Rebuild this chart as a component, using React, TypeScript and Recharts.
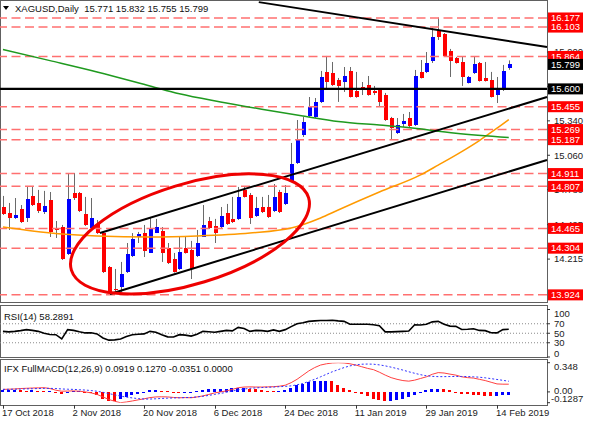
import React from 'react';
import { ComposedChart, Bar, Line, XAxis, YAxis, ReferenceLine, ReferenceDot } from 'recharts';

const FONT = '"Liberation Sans", Arial, sans-serif';

// ---- candles (daily, 17 Oct 2018 .. 18 Feb 2019) ----
const opens = [14.639,14.590,14.550,14.623,14.550,14.729,14.672,14.598,14.696,14.460,14.476,14.257,14.753,14.753,14.582,14.468,14.501,14.427,14.151,13.972,13.988,14.110,14.240,14.395,14.427,14.265,14.427,14.444,14.306,14.216,14.135,14.306,14.289,14.240,14.395,14.525,14.485,14.476,14.590,14.542,14.542,14.778,14.737,14.566,14.639,14.639,14.607,14.761,14.664,14.851,14.997,15.225,15.380,15.372,15.494,15.738,15.729,15.673,15.656,15.746,15.583,15.616,15.632,15.583,15.591,15.550,15.363,15.241,15.315,15.363,15.306,15.738,15.738,15.827,16.071,16.047,15.909,15.852,15.819,15.648,15.729,15.811,15.689,15.673,15.550,15.599,15.771];
const highs = [14.729,14.672,14.712,14.655,14.810,14.810,14.778,14.770,14.761,14.525,14.493,14.908,14.916,14.761,14.721,14.712,14.533,14.436,14.159,14.135,14.192,14.346,14.427,14.436,14.493,14.550,14.542,14.476,14.346,14.265,14.395,14.395,14.363,14.452,14.655,14.558,14.542,14.639,14.664,14.721,14.802,14.802,14.753,14.721,14.721,14.737,14.826,14.778,14.818,15.160,15.347,15.372,15.534,15.526,15.746,15.868,15.819,15.689,15.778,15.778,15.738,15.656,15.705,15.624,15.599,15.567,15.372,15.363,15.396,15.412,15.754,15.835,15.900,16.096,16.180,16.055,15.925,15.860,15.860,15.705,15.860,15.819,15.819,15.738,15.697,15.795,15.832];
const lows = [14.574,14.452,14.542,14.509,14.517,14.647,14.590,14.582,14.395,14.387,14.208,14.249,14.696,14.598,14.485,14.468,14.420,14.102,13.924,13.931,13.948,14.102,14.232,14.346,14.232,14.265,14.427,14.192,14.175,14.105,14.127,14.260,14.053,14.232,14.395,14.460,14.346,14.468,14.493,14.509,14.533,14.716,14.501,14.558,14.590,14.550,14.598,14.590,14.655,14.843,14.989,15.209,15.372,15.363,15.485,15.591,15.624,15.494,15.575,15.530,15.528,15.550,15.545,15.550,15.453,15.340,15.192,15.233,15.290,15.282,15.298,15.685,15.729,15.811,15.998,15.860,15.697,15.806,15.624,15.644,15.721,15.660,15.660,15.530,15.485,15.583,15.755];
const closes = [14.582,14.550,14.574,14.517,14.704,14.655,14.607,14.647,14.436,14.452,14.216,14.704,14.712,14.607,14.493,14.550,14.427,14.110,13.939,13.964,14.094,14.257,14.379,14.419,14.281,14.468,14.476,14.265,14.184,14.110,14.273,14.265,14.135,14.346,14.493,14.468,14.427,14.566,14.501,14.517,14.721,14.721,14.550,14.631,14.598,14.558,14.721,14.598,14.753,14.989,15.192,15.331,15.453,15.494,15.697,15.656,15.632,15.624,15.705,15.534,15.534,15.591,15.550,15.567,15.494,15.347,15.282,15.306,15.339,15.298,15.705,15.689,15.811,16.022,16.022,15.868,15.827,15.811,15.697,15.697,15.803,15.664,15.664,15.534,15.591,15.746,15.799];

// ---- moving averages (read at sample bars) ----
const orangeIdx = [0, 5, 10, 16, 25, 33, 42, 49, 54, 57, 64, 71, 74, 78, 81, 84, 86];
const orangeVal = [14.476, 14.444, 14.419, 14.403, 14.395, 14.403, 14.427, 14.468, 14.55, 14.615, 14.761, 14.9, 14.98, 15.09, 15.18, 15.28, 15.35];
const greenIdx = [0, 8, 16, 25, 30, 37, 44, 51, 57, 64, 68, 77, 86];
const greenVal = [15.92, 15.83, 15.738, 15.624, 15.56, 15.494, 15.435, 15.38, 15.335, 15.306, 15.29, 15.24, 15.205];

// ---- RSI(14) ----
const rsiVals = [54,53,54,55.5,57.6,56,54,50,47.5,47,38,57.6,56,53,50.7,51,48.6,40,35.5,36,38,43,47,48,48.6,54,52,47,42.4,42,47,46,44,48,54,53,52,54,56,55,62.4,60,54,56,55.5,54,57,54,57.6,64,70,72,75,76,77,77,77.5,76,75,69,69,69,69,68,66,53,53,53.5,54,54.6,68,67.5,69,74,75,69,65,64.5,58,58.5,59.6,56,55.5,51,50.7,57.6,58.29];

// ---- MACD ----
const macdVals = [0.030,0.032,0.035,0.040,0.043,0.046,0.048,0.050,0.040,0.020,0.008,0.010,0.012,0.008,0.000,-0.012,-0.030,-0.060,-0.090,-0.112,-0.1287,-0.120,-0.108,-0.095,-0.082,-0.068,-0.060,-0.058,-0.060,-0.066,-0.070,-0.068,-0.070,-0.060,-0.048,-0.030,-0.012,0.000,0.012,0.030,0.050,0.058,0.060,0.058,0.058,0.060,0.062,0.068,0.080,0.110,0.150,0.200,0.250,0.290,0.320,0.335,0.345,0.348,0.345,0.335,0.320,0.300,0.280,0.265,0.235,0.200,0.170,0.150,0.135,0.128,0.140,0.160,0.180,0.210,0.230,0.225,0.212,0.200,0.180,0.170,0.165,0.150,0.135,0.115,0.095,0.092,0.0919];
const signalVals = [0.030,0.031,0.032,0.034,0.036,0.038,0.040,0.042,0.042,0.040,0.035,0.032,0.030,0.026,0.022,0.016,0.008,-0.005,-0.020,-0.035,-0.050,-0.062,-0.072,-0.080,-0.085,-0.085,-0.082,-0.078,-0.075,-0.072,-0.070,-0.068,-0.066,-0.060,-0.052,-0.042,-0.030,-0.018,-0.005,0.010,0.025,0.035,0.042,0.048,0.052,0.055,0.058,0.062,0.066,0.072,0.085,0.100,0.125,0.150,0.180,0.210,0.240,0.265,0.290,0.310,0.322,0.330,0.332,0.330,0.322,0.310,0.295,0.278,0.260,0.240,0.222,0.205,0.192,0.185,0.182,0.182,0.183,0.184,0.184,0.183,0.180,0.175,0.168,0.158,0.148,0.138,0.127];
const histVals = [0.02,0.02,0.025,0.02,0.015,0.02,0.015,0.01,0.01,-0.01,-0.03,-0.01,0.005,0.005,0,-0.01,-0.04,-0.08,-0.105,-0.11,-0.09,-0.06,-0.04,-0.02,0,0.02,0.025,0.015,0.01,0,-0.01,-0.005,0,0.01,0.02,0.03,0.035,0.04,0.04,0.045,0.05,0.05,0.04,0.03,0.02,0.015,0.005,0.01,0.02,0.05,0.08,0.1,0.115,0.125,0.13,0.135,0.13,0.08,0.05,0.02,0,-0.02,-0.05,-0.08,-0.1,-0.11,-0.11,-0.1,-0.08,-0.06,-0.04,-0.01,0.02,0.035,0.04,0.03,0.02,0,-0.02,-0.03,-0.035,-0.04,-0.045,-0.05,-0.05,-0.04,-0.035];

// ---- levels, ticks, annotations ----
const redLevels = [16.177, 16.103, 15.864, 15.455, 15.269, 15.187, 14.911, 14.807, 14.465, 14.304, 13.924];
const supportLevel = 15.6;
const lastPrice = 15.799;
const priceTicks = [14.215, 14.495, 14.78, 15.06, 15.34, 15.62, 15.9];
const priceDomain = [13.866, 16.307];
const dateTicks = [0, 12, 24, 36, 48, 60, 72, 84];
const dateLabels = ['17 Oct 2018', '2 Nov 2018', '20 Nov 2018', '6 Dec 2018', '24 Dec 2018', '11 Jan 2019', '29 Jan 2019', '14 Feb 2019'];
const rsiTicks = [0, 30, 50, 70, 100];
const rsiLevels = [30, 50, 70];
const macdMax = 0.348;
const macdMin = -0.1287;
const trendDown = [{ x: 43.5, y: 16.306 }, { x: 92.5, y: 15.941 }];
const channelTop = [{ x: 16.5, y: 14.427 }, { x: 92.5, y: 15.534 }];
const channelBottom = [{ x: 18.2, y: 13.931 }, { x: 92.5, y: 15.022 }];
const ellipseCenter = { x: 31.8, y: 14.42 };
const xDomain = [-0.5, 92.5];

const rows = opens.map((o, i) => ({
  i,
  range: [lows[i], highs[i]],
  open: o,
  high: highs[i],
  low: lows[i],
  close: closes[i],
  rsi: rsiVals[i],
  macd: macdVals[i],
  signal: signalVals[i],
  hist: histVals[i],
  histUp: i === 0 ? true : histVals[i] >= histVals[i - 1],
  ma1: null as number | null,
  ma2: null as number | null,
}));
orangeIdx.forEach((k, j) => { rows[k].ma1 = orangeVal[j]; });
greenIdx.forEach((k, j) => { rows[k].ma2 = greenVal[j]; });

function Candle(props: any) {
  const { x, y, width, height, payload } = props;
  if (!payload || x == null || y == null) return null;
  const { open, close, high, low } = payload;
  const yTop = Math.min(y, y + height);
  const h = Math.abs(height);
  const cx = Math.round(x + width / 2);
  const k = h / (high - low || 1e-9);
  const py = (p: number) => yTop + (high - p) * k;
  const top = py(Math.max(open, close));
  const bot = py(Math.min(open, close));
  const bull = close >= open;
  return (
    <g>
      <line x1={cx + 0.5} x2={cx + 0.5} y1={yTop} y2={yTop + h} stroke="#6a6a6a" strokeWidth={1} />
      <rect x={cx - 1.5} y={top} width={4} height={Math.max(1, bot - top)} fill={bull ? '#0000ff' : '#ff0000'} shapeRendering="crispEdges" />
    </g>
  );
}

function HistBar(props: any) {
  const { x, y, width, height, payload } = props;
  if (!payload || x == null || y == null) return null;
  const top = Math.min(y, y + height);
  const h = Math.max(1, Math.abs(height));
  return <rect x={x} y={top} width={width} height={h} fill={payload.histUp ? '#0000ff' : '#ff0000'} shapeRendering="crispEdges" />;
}

const tag = (text: string, bg: string) => (props: any) => {
  const vb = props.viewBox || {};
  const yy = vb.y;
  const xx = (vb.x || 0) + (vb.width || 0);
  return (
    <g>
      <rect x={xx + 1} y={yy - 5.5} width={35} height={11} fill={bg} />
      <text x={xx + 4} y={yy} dy="0.35em" fill="#ffffff" fontSize={9.5} fontFamily={FONT}>{text}</text>
    </g>
  );
};

function PriceTick(props: any) {
  const { x, y, payload } = props;
  return (
    <g>
      <line x1={x} x2={x + 3} y1={y} y2={y} stroke="#333" />
      <text x={x + 7} y={y} dy="0.35em" fontSize={9.5} fontFamily={FONT} fill="#222">{Number(payload.value).toFixed(3)}</text>
    </g>
  );
}

function RsiTick(props: any) {
  const { x, y, payload } = props;
  const v = payload.value;
  const dy = v === 100 ? 4 : v === 0 ? -3 : 0;
  return (
    <g>
      <line x1={x} x2={x + 3} y1={y} y2={y} stroke="#333" />
      <text x={x + 7} y={y + dy} dy="0.35em" fontSize={9.5} fontFamily={FONT} fill="#222">{String(v)}</text>
    </g>
  );
}

function MacdTick(props: any) {
  const { x, y, payload } = props;
  const v = payload.value;
  let label = '0.00';
  let dy = -1;
  let dx = 7;
  if (v === macdMax) { label = macdMax.toFixed(3); dy = 4; }
  if (v === macdMin) { label = macdMin.toFixed(4); dy = -4; dx = 4; }
  return (
    <g>
      <line x1={x} x2={x + 3} y1={y} y2={y} stroke="#333" />
      <text x={x + dx} y={y + dy} dy="0.35em" fontSize={9.5} fontFamily={FONT} fill="#222">{label}</text>
    </g>
  );
}

function DateTick(props: any) {
  const { x, y, payload, index } = props;
  const idx = dateTicks.indexOf(payload.value);
  return (
    <g>
      <line x1={Math.round(x) + 0.5} x2={Math.round(x) + 0.5} y1={y + 2.5} y2={y + 6} stroke="#333" />
      <text x={x - 1} y={y + 9.5} dy="0.35em" fontSize={9.5} fontFamily={FONT} fill="#222">{dateLabels[idx >= 0 ? idx : index]}</text>
    </g>
  );
}

const EllipseShape = (props: any) => {
  const { cx, cy } = props;
  if (cx == null || cy == null) return null;
  return (
    <ellipse cx={cx} cy={cy} rx={124} ry={50} transform={`rotate(-17 ${cx} ${cy})`} fill="none" stroke="#ee0000" strokeWidth={3} />
  );
};

const frame = (top: number, height: number): React.CSSProperties => ({
  position: 'absolute', left: 0, top, width: 548, height, border: '1px solid #606060', boxSizing: 'border-box',
});

const textStyle = (left: number, top: number): React.CSSProperties => ({
  position: 'absolute', left, top, fontFamily: FONT, fontSize: 9.5, lineHeight: '11px', color: '#111', whiteSpace: 'pre',
});

export default function App() {
  return (
    <div style={{ position: 'fixed', left: 0, top: 0, width: 589, height: 422, background: '#fff', overflow: 'hidden' }}>
      <div style={frame(0, 303)} />
      <div style={frame(305, 53)} />
      <div style={frame(359, 47)} />

      <div style={{ position: 'absolute', left: 0, top: 0 }}>
        <ComposedChart width={589} height={304} data={rows} margin={{ top: 2, right: 0, bottom: 2, left: 0 }}>
          <XAxis dataKey="i" type="number" domain={xDomain} allowDataOverflow hide />
          <YAxis orientation="right" width={42} domain={priceDomain} allowDataOverflow ticks={priceTicks} interval={0}
            tick={PriceTick} tickSize={0} tickMargin={0} tickLine={false} axisLine={false} />
          {redLevels.map((v) => (
            <ReferenceLine key={v} y={v} stroke="#ff7070" strokeWidth={1.5} strokeDasharray="9 4.5" ifOverflow="visible" />
          ))}
          <Bar dataKey="range" barSize={4} shape={(p: any) => <Candle {...p} />} isAnimationActive={false} />
          <Line dataKey="ma1" type="monotone" stroke="#ff9a00" strokeWidth={1.5} dot={false} connectNulls isAnimationActive={false} />
          <Line dataKey="ma2" type="monotone" stroke="#1f9a1f" strokeWidth={1.5} dot={false} connectNulls isAnimationActive={false} />
          <ReferenceLine y={supportLevel} stroke="#000" strokeWidth={2.2} ifOverflow="visible" />
          <ReferenceLine segment={trendDown} stroke="#000" strokeWidth={2} ifOverflow="visible" />
          <ReferenceLine segment={channelTop} stroke="#000" strokeWidth={2} ifOverflow="visible" />
          <ReferenceLine segment={channelBottom} stroke="#000" strokeWidth={2} ifOverflow="visible" />
          <ReferenceDot x={ellipseCenter.x} y={ellipseCenter.y} r={1} ifOverflow="visible" shape={EllipseShape} />
        </ComposedChart>
      </div>

      {/* price tags overlay, drawn above the axis tick labels */}
      <div style={{ position: 'absolute', left: 0, top: 0 }}>
        <ComposedChart width={589} height={304} data={rows} margin={{ top: 2, right: 0, bottom: 2, left: 0 }}>
          <XAxis dataKey="i" type="number" domain={xDomain} allowDataOverflow hide />
          <YAxis orientation="right" width={42} domain={priceDomain} allowDataOverflow tick={false} tickLine={false} axisLine={false} />
          {redLevels.map((v) => (
            <ReferenceLine key={'t' + v} y={v} stroke="none" ifOverflow="visible" label={tag(v.toFixed(3), '#ff0000')} />
          ))}
          <ReferenceLine y={lastPrice} stroke="none" ifOverflow="visible" label={tag(lastPrice.toFixed(3), '#000000')} />
          <ReferenceLine y={supportLevel} stroke="none" ifOverflow="visible" label={tag(supportLevel.toFixed(3), '#000000')} />
        </ComposedChart>
      </div>

      <div style={{ position: 'absolute', left: 0, top: 306 }}>
        <ComposedChart width={589} height={52} data={rows} margin={{ top: 3.5, right: 0, bottom: 1, left: 0 }}>
          <XAxis dataKey="i" type="number" domain={xDomain} allowDataOverflow hide />
          <YAxis orientation="right" width={42} domain={[0, 100]} allowDataOverflow ticks={rsiTicks} interval={0}
            tick={RsiTick} tickSize={0} tickMargin={0} tickLine={false} axisLine={false} />
          {rsiLevels.map((v) => (
            <ReferenceLine key={v} y={v} stroke="#8a8a8a" strokeDasharray="1 2" ifOverflow="visible" />
          ))}
          <Line dataKey="rsi" type="linear" stroke="#000" strokeWidth={1.6} dot={false} isAnimationActive={false} />
        </ComposedChart>
      </div>

      <div style={{ position: 'absolute', left: 0, top: 360 }}>
        <ComposedChart width={589} height={62} data={rows} margin={{ top: 2.7, right: 0, bottom: 2.3, left: 0 }}>
          <XAxis dataKey="i" type="number" domain={xDomain} allowDataOverflow ticks={dateTicks} interval={0}
            height={17} tick={DateTick} tickSize={0} tickMargin={0} tickLine={false} axisLine={false} />
          <YAxis orientation="right" width={42} domain={[macdMin, macdMax]} allowDataOverflow ticks={[macdMax, 0, macdMin]} interval={0}
            tick={MacdTick} tickSize={0} tickMargin={0} tickLine={false} axisLine={false} />
          <Bar dataKey="hist" barSize={3} shape={(p: any) => <HistBar {...p} />} isAnimationActive={false} />
          <Line dataKey="macd" type="linear" stroke="#ff4040" strokeWidth={1} dot={false} isAnimationActive={false} />
          <Line dataKey="signal" type="linear" stroke="#3030ff" strokeWidth={1} strokeDasharray="2 2" dot={false} isAnimationActive={false} />
        </ComposedChart>
      </div>

      <div style={{ position: 'absolute', left: 3, top: 6, width: 0, height: 0, borderLeft: '3px solid transparent', borderRight: '3px solid transparent', borderTop: '4px solid #000' }} />
      <div style={textStyle(15, 3)}>{'XAGUSD,Daily  15.771 15.832 15.755 15.799'}</div>
      <div style={textStyle(4, 311)}>{'RSI(14) 58.2891'}</div>
      <div style={textStyle(4, 363)}>{'IFX FullMACD(12,26,9) 0.0919 0.1270 -0.0351 0.0000'}</div>
    </div>
  );
}
